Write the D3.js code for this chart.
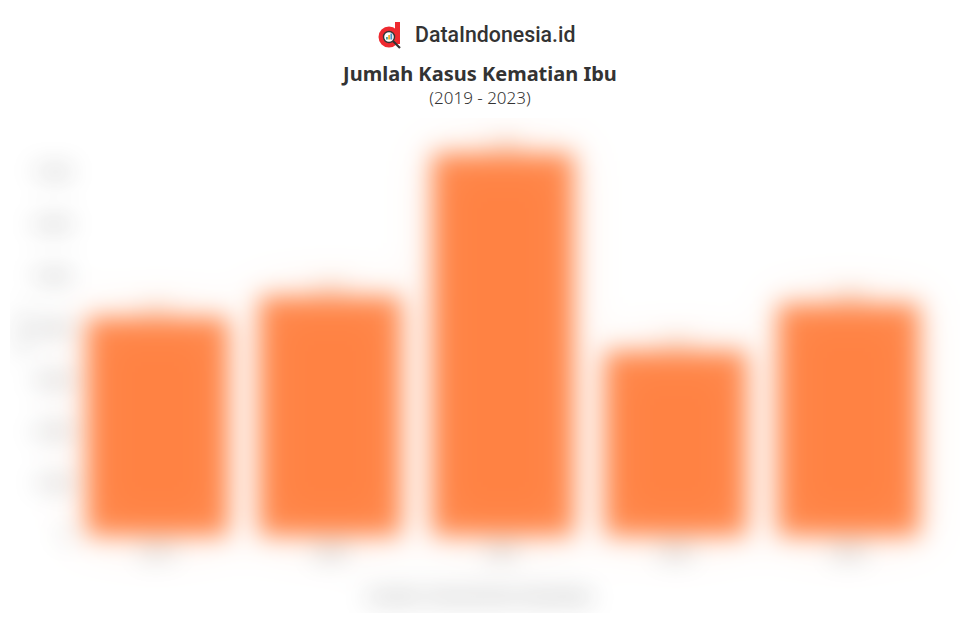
<!DOCTYPE html>
<html><head><meta charset="utf-8">
<script src="https://cdn.jsdelivr.net/npm/d3@7"></script>
<style>html,body{margin:0;padding:0;background:#fff}svg{display:block}</style>
</head><body><svg id="c" width="960" height="620"></svg>
<script>
const years = ["2019","2020","2021","2022","2023"];
const deaths = [4221,4627,7389,3572,4482];
const yTicks = [0,1000,2000,3000,4000,5000,6000,7000];
const titleText = "Jumlah Kasus Kematian Ibu";
const subtitleText = "(2019 - 2023)";
const brandText = "DataIndonesia.id";
const axisTitle = "Kasus";
const sourceText = "Sumber: Kementerian Kesehatan";

const svg = d3.select("#c");
const sans = "'Noto Sans','Open Sans',sans-serif";
const dot = d => d3.format(",")(d).replace(",",".");

const defs = svg.append("defs");
const f = defs.append("filter").attr("id","blur").attr("filterUnits","userSpaceOnUse")
  .attr("x",10).attr("y",118).attr("width",950).attr("height",495)
  .attr("color-interpolation-filters","sRGB");
f.append("feGaussianBlur").attr("in","SourceGraphic").attr("stdDeviation",12).attr("result","a");
f.append("feGaussianBlur").attr("in","SourceGraphic").attr("stdDeviation",24).attr("result","b");
f.append("feComposite").attr("in","a").attr("in2","b").attr("operator","arithmetic")
  .attr("k1",0).attr("k2",0.8).attr("k3",0.2).attr("k4",0);

const x = d3.scaleBand().domain(years).range([71,935]).paddingInner(0.18).paddingOuter(0.09);
const y = d3.scaleLinear().domain([0,7000]).range([536,173.4]);

const g = svg.append("g").attr("filter","url(#blur)");
g.append("rect").attr("x",-60).attr("y",40).attr("width",1080).attr("height",660).attr("fill","#fff");
g.selectAll("rect.bar").data(deaths).join("rect").attr("class","bar")
  .attr("x",(d,i)=>x(years[i])).attr("width",x.bandwidth())
  .attr("y",d=>y(d)).attr("height",d=>y(0)-y(d)).attr("fill","#ff8243");
g.selectAll("text.val").data(deaths).join("text").attr("class","val")
  .attr("x",(d,i)=>x(years[i])+x.bandwidth()/2).attr("y",d=>y(d)-4)
  .attr("text-anchor","middle").attr("font-family",sans).attr("font-size",14)
  .attr("fill","#e8834f").text(dot);

const yAxis = d3.axisLeft(y).tickValues(yTicks).tickFormat(dot).tickSize(0).tickPadding(0);
const ya = g.append("g").attr("transform","translate(70,-1)").call(yAxis);
ya.select(".domain").remove();
ya.selectAll("text").attr("font-family",sans).attr("font-size",14).attr("fill","#555");

const xAxis = d3.axisBottom(x).tickSize(0).tickPadding(0);
const xa = g.append("g").attr("transform","translate(0,547)").call(xAxis);
xa.select(".domain").remove();
xa.selectAll("text").attr("font-family",sans).attr("font-size",14).attr("fill","#555");

g.append("text").attr("transform","translate(28,332) rotate(-90)").attr("text-anchor","middle")
  .attr("font-family",sans).attr("font-size",15).attr("fill","#888").text(axisTitle);
g.append("text").attr("x",480).attr("y",601).attr("text-anchor","middle")
  .attr("font-family",sans).attr("font-size",14.5).attr("fill","#444").text(sourceText);

// Header
svg.append("text").attr("x",480).attr("y",81).attr("text-anchor","middle")
  .attr("font-family",sans).attr("font-weight",700).attr("font-size",20).attr("fill","#333").text(titleText);
svg.append("text").attr("x",480).attr("y",104).attr("text-anchor","middle")
  .attr("font-family",sans).attr("font-weight",300).attr("font-size",17).attr("fill","#333").text(subtitleText);
svg.append("text").attr("x",415).attr("y",42).attr("font-family","Roboto,sans-serif")
  .attr("font-weight",500).attr("font-size",21.3).attr("fill","#333").text(brandText);

// Brand mark
const logo = svg.append("g").attr("transform","translate(389,37)");
logo.append("circle").attr("r",8).attr("fill","none").attr("stroke","#ee2a30").attr("stroke-width",5);
logo.append("rect").attr("x",6).attr("y",-15).attr("width",5).attr("height",22).attr("fill","#ee2a30");
logo.append("line").attr("x1",3.5).attr("y1",3.5).attr("x2",11).attr("y2",11).attr("stroke","#333").attr("stroke-width",2.2);
logo.append("circle").attr("r",5.5).attr("fill","#fff").attr("stroke","#333").attr("stroke-width",1.4);
logo.append("rect").attr("x",-3).attr("y",0).attr("width",1.8).attr("height",2.5).attr("fill","#3aa6a0");
logo.append("rect").attr("x",-0.8).attr("y",-2).attr("width",1.8).attr("height",4.5).attr("fill","#f2b233");
logo.append("rect").attr("x",1.4).attr("y",-3.5).attr("width",1.8).attr("height",6).attr("fill","#4a90c2");
</script></body></html>
